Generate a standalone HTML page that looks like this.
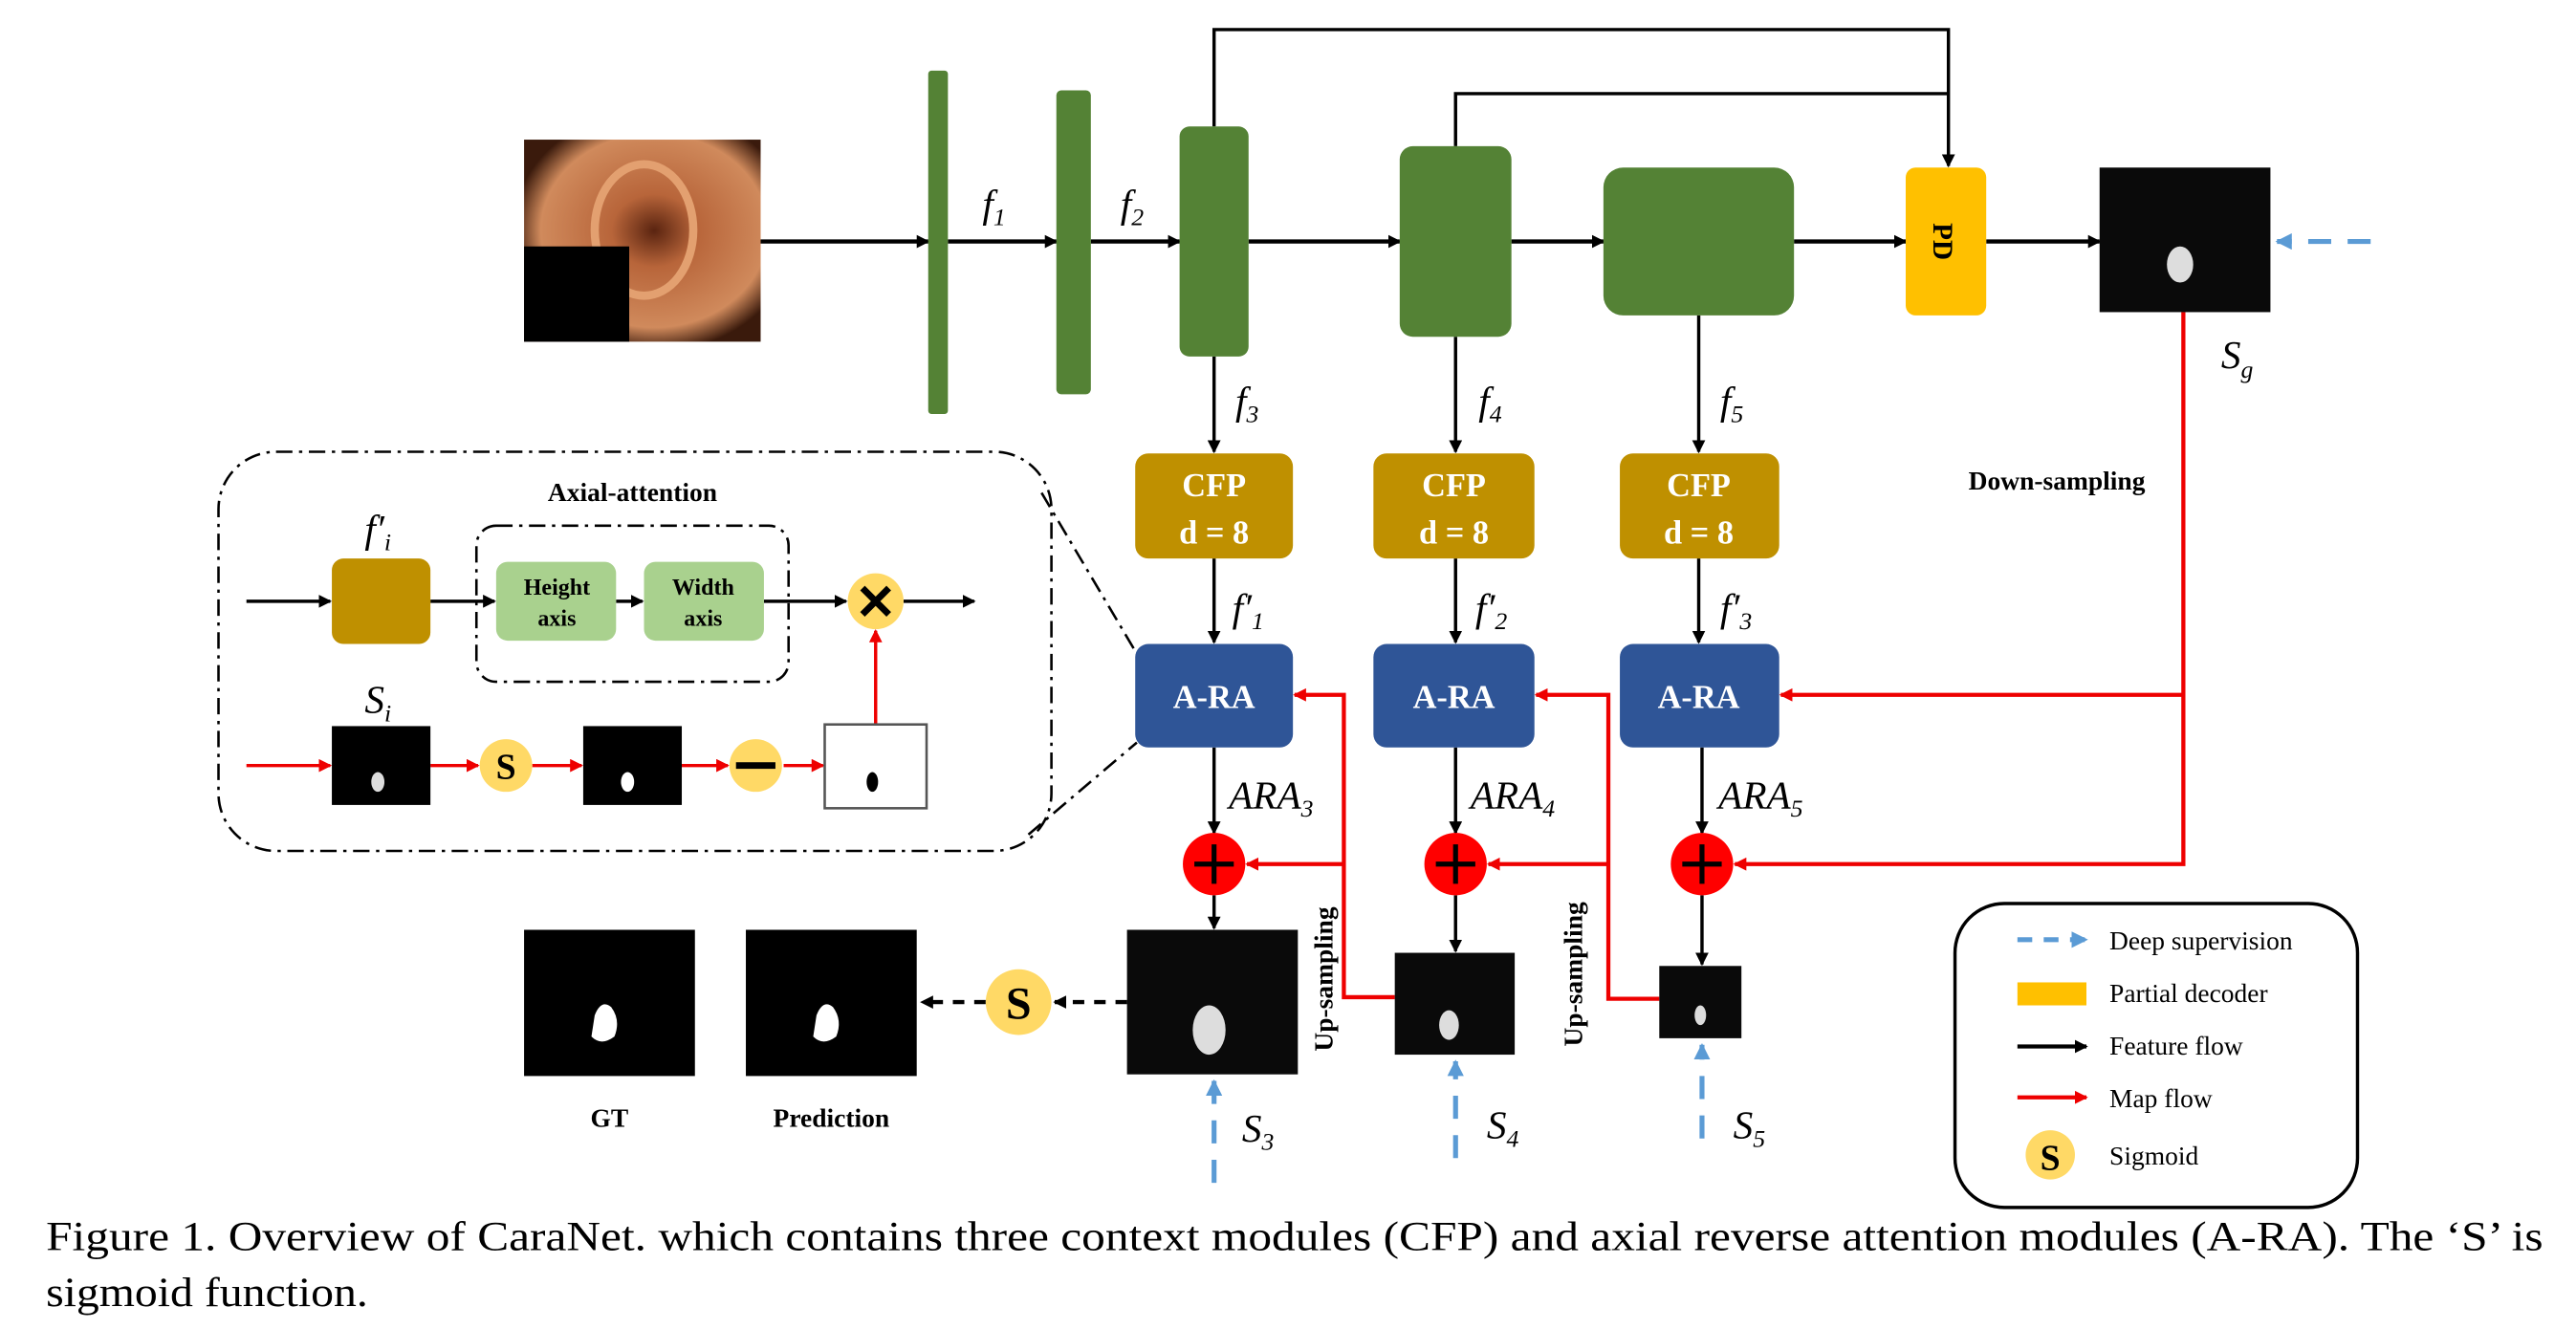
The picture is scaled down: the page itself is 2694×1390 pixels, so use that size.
<!DOCTYPE html>
<html><head><meta charset="utf-8"><style>
html,body{margin:0;padding:0;background:#fff}
svg{display:block}
text{font-family:"Liberation Serif",serif}
</style></head><body>
<svg width="2694" height="1390" viewBox="0 0 1568 809" preserveAspectRatio="none" xmlns="http://www.w3.org/2000/svg">
<defs>
<marker id="ab" markerWidth="8" markerHeight="8" refX="7" refY="4" orient="auto" markerUnits="userSpaceOnUse"><path d="M0,0 L8,4 L0,8 z" fill="#000"/></marker>
<marker id="ar" markerWidth="8" markerHeight="8" refX="7" refY="4" orient="auto" markerUnits="userSpaceOnUse"><path d="M0,0 L8,4 L0,8 z" fill="#e00"/></marker>
<marker id="al" markerWidth="10" markerHeight="10" refX="9" refY="5" orient="auto" markerUnits="userSpaceOnUse"><path d="M0,0 L10,5 L0,10 z" fill="#5b9bd5"/></marker>
<radialGradient id="col" cx="0.55" cy="0.45" r="0.6"><stop offset="0" stop-color="#5a2410"/><stop offset="0.3" stop-color="#b8653a"/><stop offset="0.8" stop-color="#d08a5c"/><stop offset="1" stop-color="#3a1a0c"/></radialGradient>
</defs>
<rect x="319" y="85" width="144" height="123" fill="url(#col)"/>
<ellipse cx="392" cy="140" rx="30" ry="40" fill="none" stroke="#e3a070" stroke-width="5"/>
<rect x="319" y="150" width="64" height="58" fill="#000"/>
<g stroke="#000" stroke-width="2.5" fill="none" marker-end="url(#ab)">
<line x1="463" y1="147" x2="565" y2="147"/>
<line x1="577" y1="147" x2="643" y2="147"/>
<line x1="664" y1="147" x2="718" y2="147"/>
<line x1="760" y1="147" x2="852" y2="147"/>
<line x1="920" y1="147" x2="976" y2="147"/>
<line x1="1092" y1="147" x2="1160" y2="147"/>
<line x1="1209" y1="147" x2="1278" y2="147"/>
</g>
<g stroke="#000" stroke-width="2" fill="none">
<polyline points="739,77 739,18 1186,18 1186,101" marker-end="url(#ab)"/>
<polyline points="886,89 886,57 1186,57"/>
<line x1="739" y1="217" x2="739" y2="275" marker-end="url(#ab)"/>
<line x1="886" y1="205" x2="886" y2="275" marker-end="url(#ab)"/>
<line x1="1034" y1="192" x2="1034" y2="275" marker-end="url(#ab)"/>
<line x1="739" y1="340" x2="739" y2="391" marker-end="url(#ab)"/>
<line x1="886" y1="340" x2="886" y2="391" marker-end="url(#ab)"/>
<line x1="1034" y1="340" x2="1034" y2="391" marker-end="url(#ab)"/>
<line x1="739" y1="455" x2="739" y2="507" marker-end="url(#ab)"/>
<line x1="886" y1="455" x2="886" y2="507" marker-end="url(#ab)"/>
<line x1="1036" y1="455" x2="1036" y2="507" marker-end="url(#ab)"/>
<line x1="739" y1="545" x2="739" y2="565" marker-end="url(#ab)"/>
<line x1="886" y1="545" x2="886" y2="579" marker-end="url(#ab)"/>
<line x1="1036" y1="545" x2="1036" y2="587" marker-end="url(#ab)"/>
</g>
<g fill="#548235">
<rect x="565" y="43" width="12" height="209" rx="2"/>
<rect x="643" y="55" width="21" height="185" rx="3"/>
<rect x="718" y="77" width="42" height="140" rx="6"/>
<rect x="852" y="89" width="68" height="116" rx="8"/>
<rect x="976" y="102" width="116" height="90" rx="12"/>
</g>
<rect x="1160" y="102" width="49" height="90" rx="6" fill="#ffc000"/>
<text transform="translate(1177,147) rotate(90)" text-anchor="middle" font-size="17" font-weight="bold">PD</text>
<rect x="1278" y="102" width="104" height="88" fill="#0a0a0a"/>
<ellipse cx="1327" cy="161" rx="8" ry="11" fill="#ddd"/>
<line x1="1443" y1="147" x2="1386" y2="147" stroke="#5b9bd5" stroke-width="3" stroke-dasharray="14,10" marker-end="url(#al)"/>
<g font-style="italic" font-size="24">
<text x="598" y="132">f<tspan font-size="15" dy="5">1</tspan></text>
<text x="682" y="132">f<tspan font-size="15" dy="5">2</tspan></text>
<text x="752" y="252">f<tspan font-size="15" dy="5">3</tspan></text>
<text x="900" y="252">f<tspan font-size="15" dy="5">4</tspan></text>
<text x="1047" y="252">f<tspan font-size="15" dy="5">5</tspan></text>
<text x="750" y="378">f′<tspan font-size="15" dy="5">1</tspan></text>
<text x="898" y="378">f′<tspan font-size="15" dy="5">2</tspan></text>
<text x="1047" y="378">f′<tspan font-size="15" dy="5">3</tspan></text>
<text x="1352" y="224">S<tspan font-size="15" dy="6">g</tspan></text>
<text x="748" y="492">ARA<tspan font-size="15" dy="5">3</tspan></text>
<text x="895" y="492">ARA<tspan font-size="15" dy="5">4</tspan></text>
<text x="1046" y="492">ARA<tspan font-size="15" dy="5">5</tspan></text>
<text x="756" y="695">S<tspan font-size="15" dy="5">3</tspan></text>
<text x="905" y="693">S<tspan font-size="15" dy="5">4</tspan></text>
<text x="1055" y="693">S<tspan font-size="15" dy="5">5</tspan></text>
</g>
<text x="1252" y="298" font-size="16" font-weight="bold" text-anchor="middle">Down-sampling</text>
<g fill="#bf9000">
<rect x="691" y="276" width="96" height="64" rx="8"/>
<rect x="836" y="276" width="98" height="64" rx="8"/>
<rect x="986" y="276" width="97" height="64" rx="8"/>
</g>
<g fill="#fff" font-size="20" font-weight="bold" text-anchor="middle">
<text x="739" y="302">CFP</text><text x="739" y="331">d = 8</text>
<text x="885" y="302">CFP</text><text x="885" y="331">d = 8</text>
<text x="1034" y="302">CFP</text><text x="1034" y="331">d = 8</text>
</g>
<g fill="#2f5597">
<rect x="691" y="392" width="96" height="63" rx="8"/>
<rect x="836" y="392" width="98" height="63" rx="8"/>
<rect x="986" y="392" width="97" height="63" rx="8"/>
</g>
<g fill="#fff" font-size="20" font-weight="bold" text-anchor="middle">
<text x="739" y="431">A-RA</text><text x="885" y="431">A-RA</text><text x="1034" y="431">A-RA</text>
</g>
<g stroke="#e00" stroke-width="2.5" fill="none">
<polyline points="1329,190 1329,526 1056,526" marker-end="url(#ar)"/>
<polyline points="1329,423 1084,423" marker-end="url(#ar)"/>
<polyline points="1010,608 979,608 979,423 935,423" marker-end="url(#ar)"/>
<polyline points="979,526 906,526" marker-end="url(#ar)"/>
<polyline points="849,607 818,607 818,423 788,423" marker-end="url(#ar)"/>
<polyline points="818,526 759,526" marker-end="url(#ar)"/>
</g>
<g>
<circle cx="739" cy="526" r="19" fill="#f00"/><circle cx="886" cy="526" r="19" fill="#f00"/><circle cx="1036" cy="526" r="19" fill="#f00"/>
<path d="M727,526h24M739,514v24M874,526h24M886,514v24M1024,526h24M1036,514v24" stroke="#000" stroke-width="3"/>
</g>
<rect x="686" y="566" width="104" height="88" fill="#0a0a0a"/><ellipse cx="736" cy="627" rx="10" ry="15" fill="#ddd"/>
<rect x="849" y="580" width="73" height="62" fill="#0a0a0a"/><ellipse cx="882" cy="624" rx="6" ry="9" fill="#ddd"/>
<rect x="1010" y="588" width="50" height="44" fill="#0a0a0a"/><ellipse cx="1035" cy="618" rx="3.5" ry="6" fill="#ddd"/>
<text transform="translate(811,596) rotate(-90)" text-anchor="middle" font-size="16" font-weight="bold">Up-sampling</text>
<text transform="translate(963,593) rotate(-90)" text-anchor="middle" font-size="16" font-weight="bold">Up-sampling</text>
<g stroke="#5b9bd5" stroke-width="3" fill="none" stroke-dasharray="14,10" marker-end="url(#al)">
<line x1="739" y1="720" x2="739" y2="658"/>
<line x1="886" y1="705" x2="886" y2="646"/>
<line x1="1036" y1="693" x2="1036" y2="636"/>
</g>
<rect x="319" y="566" width="104" height="89" fill="#000"/><path d="M362,618 q4,-10 10,-5 q6,8 2,18 q-8,6 -14,0 z" fill="#fff"/>
<rect x="454" y="566" width="104" height="89" fill="#000"/><path d="M497,618 q4,-10 10,-5 q6,8 2,18 q-8,6 -14,0 z" fill="#fff"/>
<text x="371" y="686" text-anchor="middle" font-size="16" font-weight="bold">GT</text>
<text x="506" y="686" text-anchor="middle" font-size="16" font-weight="bold">Prediction</text>
<g stroke="#000" stroke-width="2.5" stroke-dasharray="7,6" marker-end="url(#ab)">
<line x1="686" y1="610" x2="642" y2="610"/>
<line x1="600" y1="610" x2="561" y2="610"/>
</g>
<circle cx="620" cy="610" r="20" fill="#ffd966"/>
<text x="620" y="620" text-anchor="middle" font-size="28" font-weight="bold">S</text>
<rect x="1190" y="550" width="245" height="185" rx="30" fill="none" stroke="#000" stroke-width="2"/>
<line x1="1228" y1="572" x2="1270" y2="572" stroke="#5b9bd5" stroke-width="3" stroke-dasharray="9,7" marker-end="url(#al)"/>
<rect x="1228" y="598" width="42" height="14" fill="#ffc000"/>
<line x1="1228" y1="637" x2="1270" y2="637" stroke="#000" stroke-width="2.5" marker-end="url(#ab)"/>
<line x1="1228" y1="668" x2="1270" y2="668" stroke="#e00" stroke-width="2.5" marker-end="url(#ar)"/>
<circle cx="1248" cy="703" r="15" fill="#ffd966"/>
<text x="1248" y="712" text-anchor="middle" font-size="22" font-weight="bold">S</text>
<g font-size="16">
<text x="1284" y="578">Deep supervision</text>
<text x="1284" y="610">Partial decoder</text>
<text x="1284" y="642">Feature flow</text>
<text x="1284" y="674">Map flow</text>
<text x="1284" y="709">Sigmoid</text>
</g>
<g stroke="#000" stroke-width="1.5" fill="none" stroke-dasharray="10,4,2,4">
<rect x="133" y="275" width="507" height="243" rx="35"/>
<rect x="290" y="320" width="190" height="95" rx="12"/>
<line x1="634" y1="300" x2="692" y2="398"/>
<line x1="626" y1="508" x2="692" y2="452"/>
</g>
<text x="385" y="305" text-anchor="middle" font-size="16" font-weight="bold">Axial-attention</text>
<text x="222" y="330" font-size="24" font-style="italic">f′<tspan font-size="15" dy="5">i</tspan></text>
<text x="222" y="434" font-size="24" font-style="italic">S<tspan font-size="15" dy="5">i</tspan></text>
<g stroke="#000" stroke-width="2" marker-end="url(#ab)">
<line x1="150" y1="366" x2="201" y2="366"/>
<line x1="262" y1="366" x2="301" y2="366"/>
<line x1="375" y1="366" x2="391" y2="366"/>
<line x1="465" y1="366" x2="515" y2="366"/>
<line x1="550" y1="366" x2="593" y2="366"/>
</g>
<rect x="202" y="340" width="60" height="52" rx="7" fill="#bf9000"/>
<rect x="302" y="342" width="73" height="48" rx="7" fill="#a9d18e"/>
<rect x="392" y="342" width="73" height="48" rx="7" fill="#a9d18e"/>
<g font-size="14" font-weight="bold" text-anchor="middle">
<text x="339" y="362">Height</text><text x="339" y="381">axis</text>
<text x="428" y="362">Width</text><text x="428" y="381">axis</text>
</g>
<circle cx="533" cy="366" r="17" fill="#ffd966"/>
<path d="M525,358l16,16M541,358l-16,16" stroke="#000" stroke-width="4"/>
<g stroke="#e00" stroke-width="2" marker-end="url(#ar)">
<line x1="150" y1="466" x2="201" y2="466"/>
<line x1="262" y1="466" x2="291" y2="466"/>
<line x1="324" y1="466" x2="354" y2="466"/>
<line x1="415" y1="466" x2="443" y2="466"/>
<line x1="477" y1="466" x2="501" y2="466"/>
<line x1="533" y1="441" x2="533" y2="384"/>
</g>
<rect x="202" y="442" width="60" height="48" fill="#000"/><ellipse cx="230" cy="476" rx="4" ry="6" fill="#ddd"/>
<circle cx="308" cy="466" r="16" fill="#ffd966"/>
<text x="308" y="474" text-anchor="middle" font-size="22" font-weight="bold">S</text>
<rect x="355" y="442" width="60" height="48" fill="#000"/><ellipse cx="382" cy="476" rx="4" ry="6" fill="#fff"/>
<circle cx="460" cy="466" r="16" fill="#ffd966"/>
<rect x="448" y="464" width="24" height="4" fill="#000"/>
<rect x="502" y="441" width="62" height="51" fill="#fff" stroke="#555" stroke-width="1.5"/><ellipse cx="531" cy="476" rx="3.5" ry="6" fill="#000"/>
<text x="28" y="761" font-size="25" textLength="1520" lengthAdjust="spacingAndGlyphs">Figure 1. Overview of CaraNet. which contains three context modules (CFP) and axial reverse attention modules (A-RA). The ‘S’ is</text>
<text x="28" y="795" font-size="25" textLength="196" lengthAdjust="spacingAndGlyphs">sigmoid function.</text>
</svg>
</body></html>
